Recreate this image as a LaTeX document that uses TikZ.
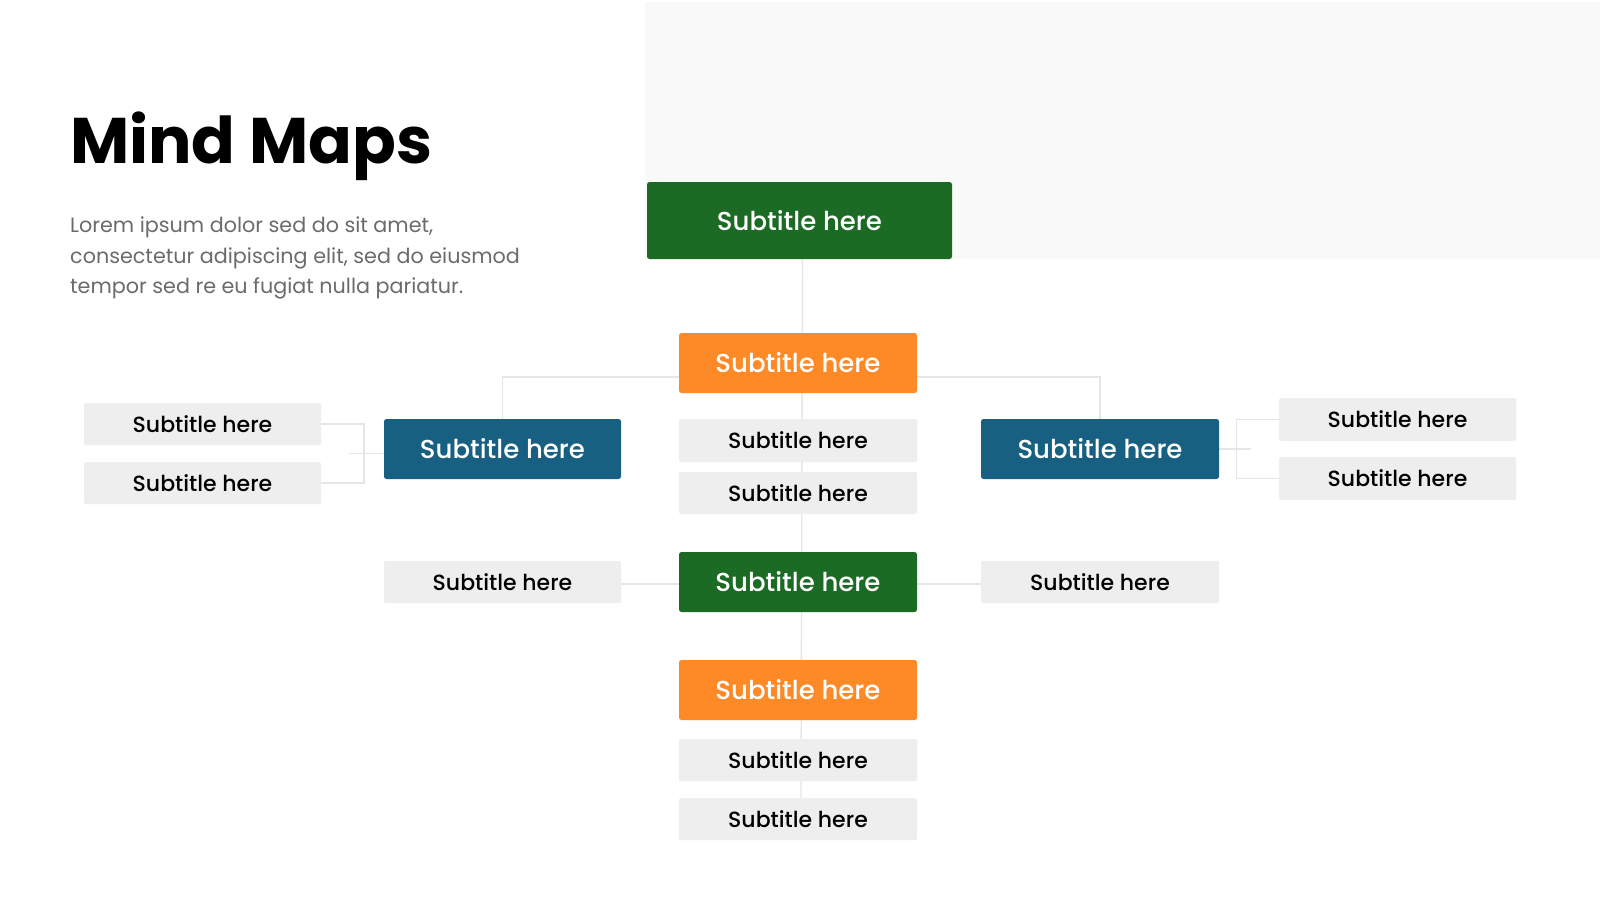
\documentclass[tikz,border=0pt]{standalone}
\usepackage{fontspec}
\usetikzlibrary{backgrounds}
\setmainfont{Poppins}
\newfontfamily\medfont{Poppins Medium}
\definecolor{dkgreen}{HTML}{1B6B24}
\definecolor{orng}{HTML}{FE8A27}
\definecolor{blu}{HTML}{176082}
\definecolor{lgray}{HTML}{EEEEEE}
\definecolor{panel}{HTML}{F9F9F9}
\definecolor{conn}{HTML}{E6E6E6}
\definecolor{bodygray}{HTML}{6B6B6B}
\begin{document}
\begin{tikzpicture}[x=1pt,y=-1pt,
  box/.style={rectangle,rounded corners=2.5pt,inner sep=0pt,minimum width=238pt,minimum height=60pt,
     text=white,font=\medfont\fontsize{26}{30}\selectfont},
  greenbox/.style={box,fill=dkgreen},
  orangebox/.style={box,fill=orng},
  bluebox/.style={box,fill=blu},
  graybox/.style={rectangle,rounded corners=1.5pt,inner sep=0pt,minimum width=237pt,minimum height=42pt,
     fill=lgray,text=black,font=\medfont\fontsize{22}{26}\selectfont},
  bodytext/.style={anchor=base west,inner sep=0pt,text=bodygray,font=\fontsize{20.7}{24}\selectfont},
  link/.style={draw=conn,line width=1.4pt}]
\useasboundingbox (0,0) rectangle (1600,900);
% title and text
\node[anchor=base west,inner sep=0pt,font=\bfseries\fontsize{64.5}{70}\selectfont] (title) at (70,163) {Mind Maps};
\node[bodytext] (l1) at (70,232.5) {Lorem ipsum dolor sed do sit amet,};
\node[bodytext] (l2) at (70,263) {consectetur adipiscing elit, sed do eiusmod};
\node[bodytext] (l3) at (70,293.5) {tempor sed re eu fugiat nulla pariatur.};
% nodes
\node[greenbox,minimum width=305pt,minimum height=77pt] (top) at (799.5,220.5) {Subtitle here};
\node[orangebox] (o1) at (798,363) {Subtitle here};
\node[bluebox,minimum width=237pt] (bL) at (502.5,449) {Subtitle here};
\node[bluebox] (bR) at (1100,449) {Subtitle here};
\node[graybox,minimum width=238pt,minimum height=43pt] (c1) at (798,440.5) {Subtitle here};
\node[graybox,minimum width=238pt] (c2) at (798,493) {Subtitle here};
\node[graybox] (lb1) at (202.5,424) {Subtitle here};
\node[graybox] (lb2) at (202.5,483) {Subtitle here};
\node[graybox,minimum height=43pt] (rb1) at (1397.5,419.5) {Subtitle here};
\node[graybox,minimum height=43pt] (rb2) at (1397.5,478.5) {Subtitle here};
\node[greenbox] (g2) at (798,582) {Subtitle here};
\node[graybox] (mL) at (502.5,582) {Subtitle here};
\node[graybox,minimum width=238pt] (mR) at (1100,582) {Subtitle here};
\node[orangebox] (o2) at (798,690) {Subtitle here};
\node[graybox,minimum width=238pt] (b1) at (798,760) {Subtitle here};
\node[graybox,minimum width=238pt] (b2) at (798,819) {Subtitle here};
\coordinate (lbr) at (364,453.5);
\coordinate (lstub) at (349,453.5);
\coordinate (rbr) at (1236.5,449);
\coordinate (rstub) at (1250.5,449);
% connectors and panel (behind)
\begin{scope}[on background layer]
\fill[white] (0,0) rectangle (1600,900);
\fill[panel] (645,1.5) rectangle (1600,258.5);
\draw[link] ([xshift=3pt]top.south) -- ([xshift=3pt]b2.north);
\draw[link] ([yshift=-14pt]o1.west) -| (bL.north);
\draw[link] ([yshift=-14pt]o1.east) -| (bR.north);
\draw[link] ([yshift=-2pt]mL.east) -- ([yshift=-2pt]mR.west);
% left bracket
\draw[link] (lb1.east) -- (lbr |- lb1.east) -- (lbr |- lb2.east) -- (lb2.east);
\draw[link] (lstub) -- (bL.west |- lstub);
% right bracket
\draw[link] (rb1.west) -- (rbr |- rb1.west) -- (rbr |- rb2.west) -- (rb2.west);
\draw[link] (bR.east) -- (rstub);
\end{scope}
\end{tikzpicture}
\end{document}
